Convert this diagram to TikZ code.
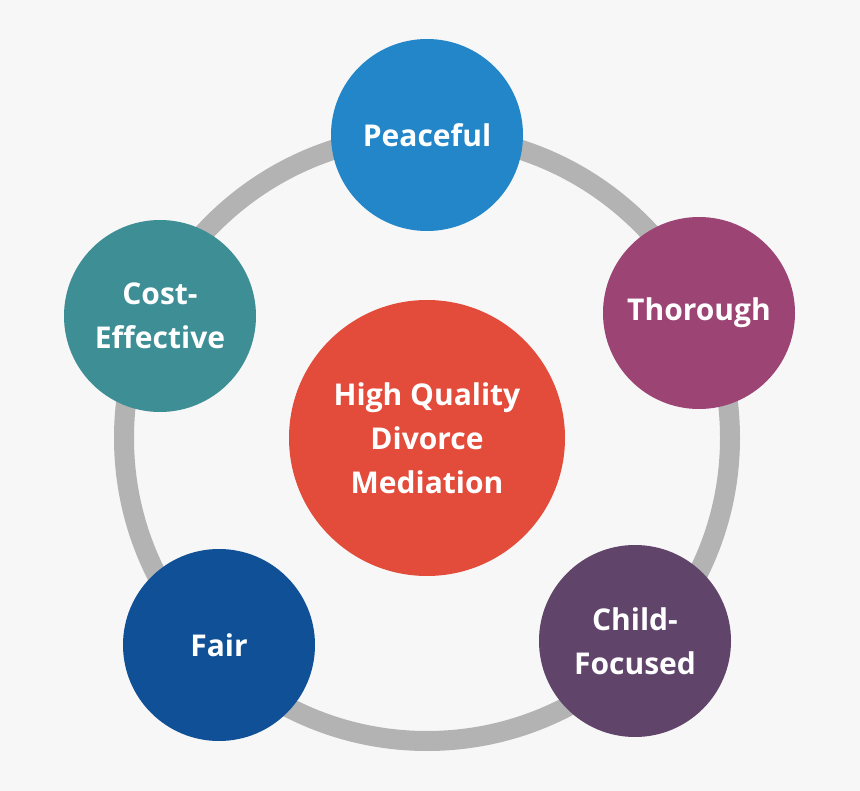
\documentclass[tikz,border=0pt]{standalone}
\usepackage{fontspec}
\setmainfont{Open Sans}
\definecolor{bg}{HTML}{F7F7F7}
\definecolor{ring}{HTML}{B3B3B3}
\definecolor{cpeace}{HTML}{2386C8}
\definecolor{cthor}{HTML}{9C4474}
\definecolor{cchild}{HTML}{60446A}
\definecolor{cfair}{HTML}{0F5096}
\definecolor{ccost}{HTML}{3E8E96}
\definecolor{ccenter}{HTML}{E34B3B}
\begin{document}
\begin{tikzpicture}[x=1pt,y=-1pt,
  bub/.style={circle,minimum size=192pt,inner sep=0pt,text=white,align=center,font=\fontsize{30}{44}\selectfont\bfseries}]
\fill[bg] (0,0) rectangle (860,791);
\useasboundingbox (0,0) rectangle (860,791);
\node[circle,draw=ring,line width=20pt,minimum size=606pt,inner sep=0pt] (ringc) at (427,438) {};
\node[bub,fill=ccenter,minimum size=276pt] (center) at (427,438) {High Quality\\Divorce\\Mediation};
\node[bub,fill=cpeace] (peace) at (427,135) {Peaceful};
\node[bub,fill=cthor] (thor) at (699,313) {Thorough};
\node[bub,fill=cchild] (child) at (635,641) {Child-\\Focused};
\node[bub,fill=cfair] (fair) at (219,645) {Fair};
\node[bub,fill=ccost] (cost) at (160,316) {Cost-\\Effective};
\end{tikzpicture}
\end{document}
